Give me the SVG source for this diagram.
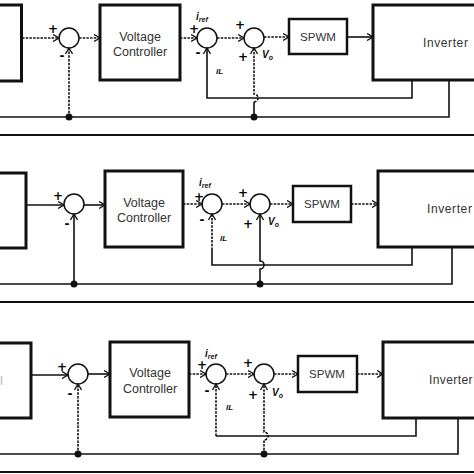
<svg xmlns="http://www.w3.org/2000/svg" width="474" height="474" viewBox="0 0 474 474">
<defs>
<marker id="ah" markerWidth="8" markerHeight="8" refX="6.5" refY="4" orient="auto" markerUnits="userSpaceOnUse">
<path d="M0.5,0.5 L6.5,4 L0.5,7.5" fill="none" stroke="#111" stroke-width="1.3"/>
</marker>
<style>
.box{fill:#fff;stroke:#111;stroke-width:3}
.sbox{fill:#fff;stroke:#111;stroke-width:2.5}
.sum{fill:#fff;stroke:#111;stroke-width:1.5}
.w{fill:none;stroke:#111;stroke-width:1.6}
.d{fill:none;stroke:#111;stroke-width:1.6;stroke-dasharray:2.5 1.2}
.a{marker-end:url(#ah)}
.sep{stroke:#111;stroke-width:2}
.dot{fill:#111}
.t{font-family:"Liberation Sans",Arial,sans-serif;font-size:12.5px;fill:#333;text-anchor:middle}
.sp{font-family:"Liberation Sans",Arial,sans-serif;font-size:11.5px;fill:#333;text-anchor:middle}
.inv{font-family:"Liberation Sans",Arial,sans-serif;font-size:12px;fill:#333;letter-spacing:0.6px}
.s{font-family:"DejaVu Sans",sans-serif;font-size:12px;font-weight:bold;fill:#000;text-anchor:middle;dominant-baseline:central}
.l{font-family:"Liberation Sans",Arial,sans-serif;font-size:10px;font-weight:bold;font-style:italic;fill:#111}
.sub{font-size:7px}
</style>
</defs>

<!-- ===== Panel 1 ===== -->
<g id="p1-input"><rect class="box" x="-5" y="5" width="26.5" height="76"/></g>
<g id="p1-sum1"><circle class="sum" cx="69" cy="38" r="10"/><text class="s" x="53" y="29">+</text><text class="s" x="62" y="56">-</text></g>
<g id="p1-vc"><rect class="box" x="100" y="5" width="80" height="75"/><text class="t" x="140" y="40.5">Voltage</text><text class="t" x="140" y="55.5">Controller</text></g>
<g id="p1-sum2"><circle class="sum" cx="207" cy="38" r="10"/><text class="l" x="196" y="20">i<tspan class="sub" dy="2">ref</tspan></text><text class="s" x="194" y="29">+</text><text class="s" x="198" y="53">-</text><text class="l" x="216" y="74" style="font-size:8px">IL</text></g>
<g id="p1-sum3"><circle class="sum" cx="254" cy="38" r="10"/><text class="s" x="240" y="25">+</text><text class="s" x="243" y="57">+</text><text class="l" x="262" y="58">V<tspan class="sub" dy="2">o</tspan></text></g>
<g id="p1-spwm"><rect class="sbox" x="289" y="19" width="58" height="35"/><text class="sp" x="318" y="41">SPWM</text></g>
<g id="p1-inv"><rect class="box" x="373" y="5" width="110" height="75"/><text class="inv" x="423" y="47">Inverter</text></g>

<g id="p1-connectors">
<line class="d a" x1="22" y1="38" x2="59" y2="38"/>
<line class="d a" x1="79" y1="38" x2="100" y2="38"/>
<line class="d a" x1="180" y1="38" x2="197" y2="38"/>
<line class="d a" x1="217" y1="38" x2="244" y2="38"/>
<line class="d a" x1="264" y1="37" x2="289" y2="37"/>
<line class="w a" x1="347" y1="37" x2="373" y2="37"/>
<line class="d a" x1="69" y1="117" x2="69" y2="48"/>
<path class="w a" d="M412,80 V98 H207 V48"/>
<path class="w" d="M254,117 V102"/>
<path class="d a" d="M254,102 A4,4 0 0 0 254,94 V48"/>
<path class="w" d="M0,117 H449 V80"/>
<circle class="dot" cx="69" cy="117" r="3.5"/>
<circle class="dot" cx="254" cy="117" r="3.5"/>
</g>
<line class="sep" x1="0" y1="135" x2="474" y2="135"/>

<!-- ===== Panel 2 ===== -->
<g id="p2-input"><rect class="box" x="-5" y="173" width="31" height="75"/></g>
<g id="p2-sum1"><circle class="sum" cx="74" cy="204" r="10"/><text class="s" x="58" y="196">+</text><text class="s" x="67" y="224">-</text></g>
<g id="p2-vc"><rect class="box" x="105" y="171" width="78" height="76"/><text class="t" x="144" y="206.5">Voltage</text><text class="t" x="144" y="221.5">Controller</text></g>
<g id="p2-sum2"><circle class="sum" cx="212" cy="204" r="10"/><text class="l" x="199" y="186">i<tspan class="sub" dy="2">ref</tspan></text><text class="s" x="199" y="197">+</text><text class="s" x="202" y="220">-</text><text class="l" x="220" y="241" style="font-size:8px">IL</text></g>
<g id="p2-sum3"><circle class="sum" cx="260" cy="204" r="10"/><text class="s" x="243" y="193">+</text><text class="s" x="248" y="224">+</text><text class="l" x="268" y="225">V<tspan class="sub" dy="2">o</tspan></text></g>
<g id="p2-spwm"><rect class="sbox" x="293" y="186" width="58" height="36"/><text class="sp" x="322" y="208">SPWM</text></g>
<g id="p2-inv"><rect class="box" x="378" y="171" width="110" height="76"/><text class="inv" x="427" y="213">Inverter</text></g>

<g id="p2-connectors">
<line class="w a" x1="26" y1="205" x2="64" y2="205"/>
<line class="w a" x1="84" y1="205" x2="105" y2="205"/>
<line class="d a" x1="183" y1="204" x2="202" y2="204"/>
<line class="d a" x1="222" y1="204" x2="250" y2="204"/>
<line class="d a" x1="270" y1="204" x2="293" y2="204"/>
<line class="d a" x1="351" y1="204" x2="378" y2="204"/>
<line class="w a" x1="74" y1="284" x2="74" y2="214"/>
<path class="w" d="M412,247 V265 H212 V250"/>
<path class="d a" d="M212,250 V214"/>
<path class="w a" d="M260,284 V269 A4,4 0 0 0 260,261 V214"/>
<path class="w" d="M0,284 H452 V247"/>
<circle class="dot" cx="74" cy="284" r="3.5"/>
<circle class="dot" cx="260" cy="284" r="3.5"/>
</g>
<line class="sep" x1="0" y1="302" x2="474" y2="302"/>

<!-- ===== Panel 3 ===== -->
<g id="p3-input"><rect class="box" x="-5" y="343" width="36" height="75"/><text x="0" y="385" style="font-family:'Liberation Sans',Arial,sans-serif;font-size:13px;fill:#bbb">l</text></g>
<g id="p3-sum1"><circle class="sum" cx="78" cy="374" r="10"/><text class="s" x="62" y="367">+</text><text class="s" x="70" y="394">-</text></g>
<g id="p3-vc"><rect class="box" x="110" y="342" width="79" height="75"/><text class="t" x="150" y="376.5">Voltage</text><text class="t" x="150" y="392.5">Controller</text></g>
<g id="p3-sum2"><circle class="sum" cx="216" cy="374" r="10"/><text class="l" x="205" y="357">i<tspan class="sub" dy="2">ref</tspan></text><text class="s" x="202" y="365">+</text><text class="s" x="207" y="391">-</text><text class="l" x="226" y="410" style="font-size:8px">IL</text></g>
<g id="p3-sum3"><circle class="sum" cx="264" cy="374" r="10"/><text class="s" x="248" y="363">+</text><text class="s" x="253" y="395">+</text><text class="l" x="272" y="396">V<tspan class="sub" dy="2">o</tspan></text></g>
<g id="p3-spwm"><rect class="sbox" x="298" y="356" width="59" height="36"/><text class="sp" x="327" y="378">SPWM</text></g>
<g id="p3-inv"><rect class="box" x="383" y="342" width="110" height="76"/><text class="inv" x="429" y="384" style="letter-spacing:0.4px">Inverter</text></g>

<g id="p3-connectors">
<line class="w a" x1="31" y1="375" x2="68" y2="375"/>
<line class="w a" x1="88" y1="374" x2="110" y2="374"/>
<line class="d a" x1="189" y1="374" x2="206" y2="374"/>
<line class="d a" x1="226" y1="374" x2="254" y2="374"/>
<line class="d a" x1="274" y1="374" x2="298" y2="374"/>
<line class="d a" x1="357" y1="374" x2="383" y2="374"/>
<line class="d a" x1="78" y1="454" x2="78" y2="384"/>
<path class="w" d="M416,418 V436 H216"/>
<path class="d a" d="M216,436 V384"/>
<path class="d a" d="M264,454 V440 A4,4 0 0 0 264,432 V384"/>
<path class="w" d="M0,454 H458 V418"/>
<circle class="dot" cx="78" cy="454" r="3.5"/>
<circle class="dot" cx="264" cy="454" r="3.5"/>
</g>
<line class="sep" x1="0" y1="472" x2="474" y2="472"/>
</svg>
